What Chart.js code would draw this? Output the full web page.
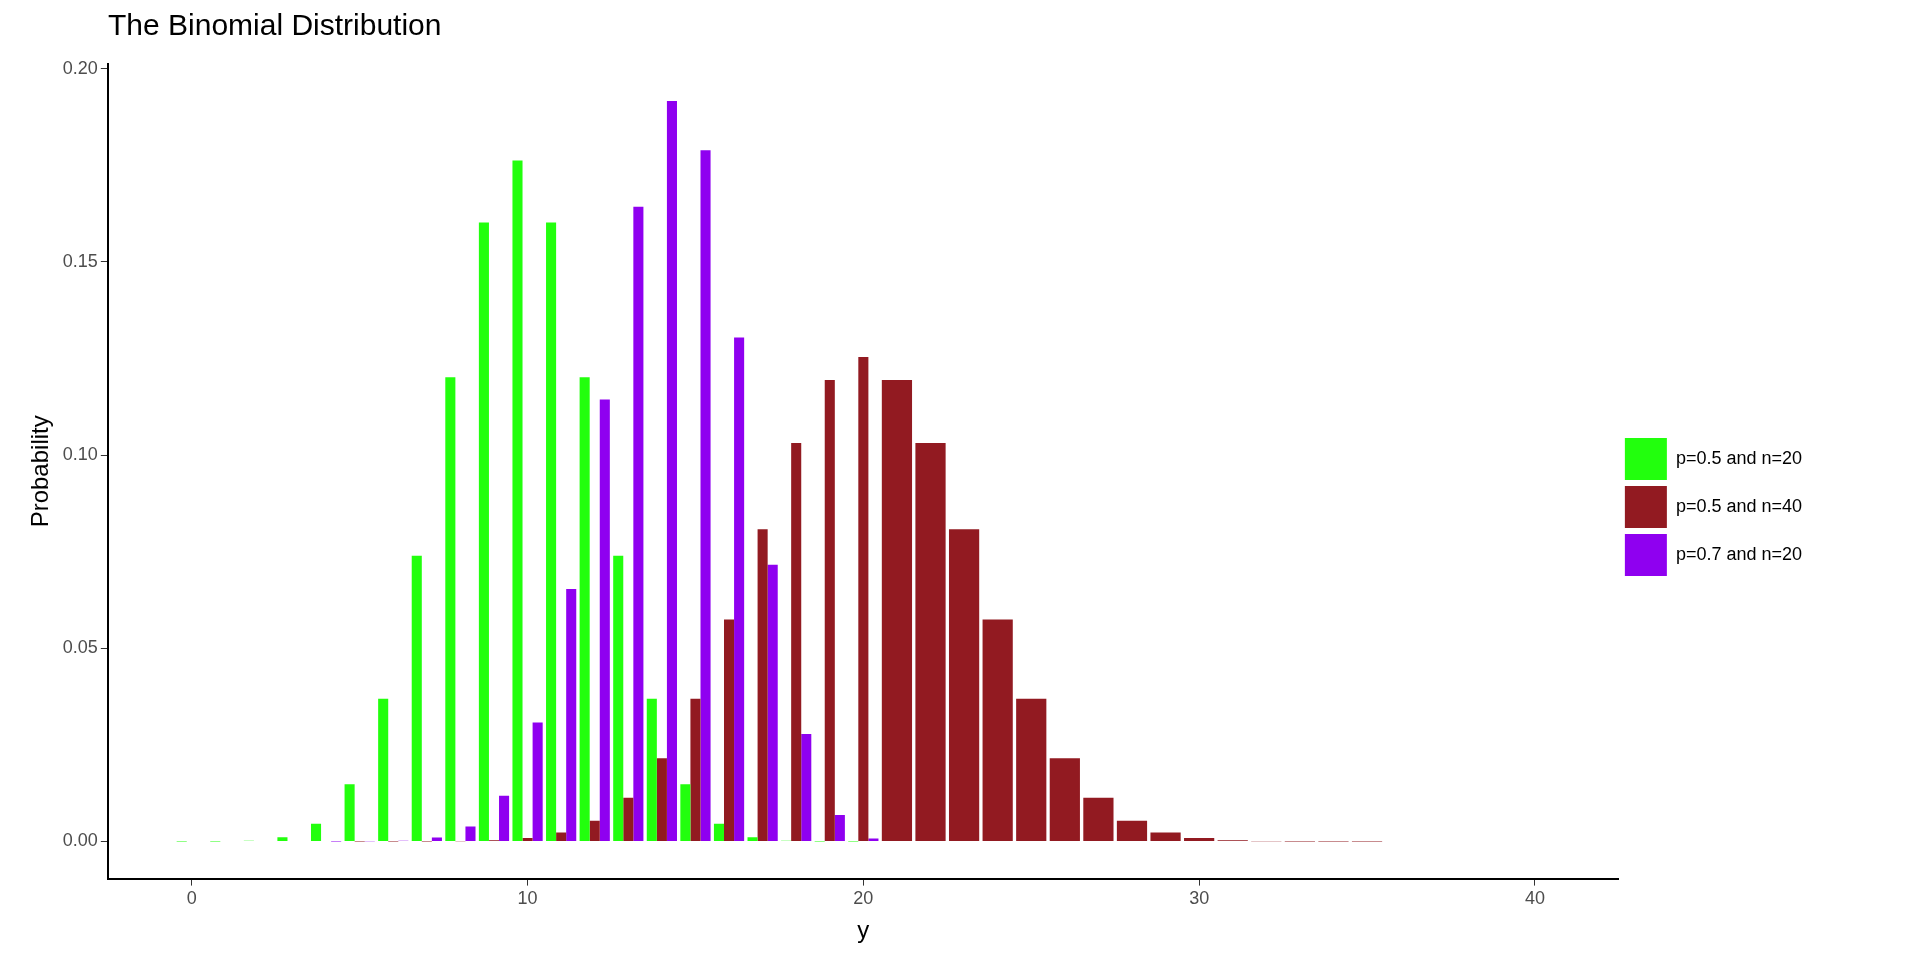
<!DOCTYPE html>
<html>
<head>
<meta charset="utf-8">
<script src="https://cdn.jsdelivr.net/npm/chart.js@4/dist/chart.umd.min.js"></script>
<style>
  body { margin: 0; background: #fff; }
  #wrap { position: relative; width: 1920px; height: 960px; }
  #title { position: absolute; left: 108px; top: 8px; font: 30px "Liberation Sans", Arial, sans-serif; color: #000; }
</style>
</head>
<body>
<div id="wrap">
  <div id="title">The Binomial Distribution</div>
  <canvas id="chart" width="1920" height="960"></canvas>
</div>
<script>
// x positions shown on the axis (padding categories at both ends)
const yValues = [];
for (let k = -2; k <= 42; k++) yValues.push(k);

// probabilities, k = 0..20
const p05n20 = [0.000001, 0.000019, 0.000181, 0.001087, 0.004621, 0.014786, 0.036964, 0.073929, 0.120134, 0.160179,
  0.176197, 0.160179, 0.120134, 0.073929, 0.036964, 0.014786, 0.004621, 0.001087, 0.000181, 0.000019, 0.000001];
const p07n20 = [0, 0, 0, 0, 0.000005, 0.000037, 0.000218, 0.001018, 0.003859, 0.011857,
  0.030817, 0.065370, 0.114397, 0.164262, 0.191639, 0.178863, 0.130421, 0.071604, 0.027846, 0.006839, 0.000798];
// k = 0..40
const p05n40 = [0, 0, 0, 0, 0, 0.0000013, 0.0000061, 0.0000253, 0.0000927, 0.000303,
  0.000882, 0.002301, 0.005383, 0.011330, 0.021529, 0.036964, 0.057417, 0.080804, 0.103118, 0.119401,
  0.125371, 0.119401, 0.103118, 0.080804, 0.057417, 0.036964, 0.021529, 0.011330, 0.005383, 0.002301,
  0.000882, 0.000303, 0.0000927, 0.0000253, 0.0000061, 0.0000013, 0, 0, 0, 0, 0];
const yTicks = [0, 0.05, 0.10, 0.15, 0.20];

function spread(arr, from, to) {
  return yValues.map(k => (k >= from && k <= to && k < arr.length && k >= 0) ? arr[k] : null);
}

const green = '#22ff0d', brown = '#921a21', purple = '#8f00f0';

// widen the legend box so it sits away from the panel like ggplot
const legendPad = {
  id: 'legendPad',
  beforeInit(chart) {
    const fit = chart.legend.fit;
    chart.legend.fit = function () { fit.call(this); this.width += 88; };
  }
};

new Chart(document.getElementById('chart'), {
  type: 'bar',
  data: {
    labels: yValues,
    datasets: [
      { label: 'p=0.5 and n=20', data: spread(p05n20, 0, 20), backgroundColor: green },
      { label: 'p=0.5 and n=40', data: spread(p05n40, 0, 20), backgroundColor: brown },
      { label: 'p=0.7 and n=20', data: spread(p07n20, 0, 20), backgroundColor: purple },
      { label: 'wide', data: spread(p05n40, 21, 40), backgroundColor: brown }
    ]
  },
  plugins: [legendPad],
  options: {
    responsive: false,
    animation: false,
    skipNull: true,
    categoryPercentage: 0.9,
    barPercentage: 1,
    layout: { padding: { top: 64, right: 20, bottom: 10, left: 23 } },
    plugins: {
      tooltip: { enabled: false },
      legend: {
        position: 'right',
        labels: {
          boxWidth: 42, boxHeight: 42, padding: 6,
          font: { size: 18, family: 'Liberation Sans' }, color: '#000',
          filter: item => item.text !== 'wide'
        }
      }
    },
    scales: {
      x: {
        grid: { display: true, drawOnChartArea: false, drawTicks: true, tickLength: 7, color: '#333', offset: false },
        border: { display: true, color: '#000', width: 2 },
        ticks: {
          autoSkip: false, maxRotation: 0, color: '#4d4d4d', font: { size: 18, family: 'Liberation Sans' },
          callback: v => String(yValues[v])
        },
        afterBuildTicks: axis => { axis.ticks = axis.ticks.filter(t => { const k = yValues[t.value]; return k % 10 === 0 && k >= 0 && k <= 40; }); },
        title: { display: true, text: 'y', font: { size: 24, family: 'Liberation Sans' }, color: '#000' }
      },
      y: {
        min: -0.0096, max: 0.2012,
        grid: { display: true, drawOnChartArea: false, drawTicks: true, tickLength: 7, color: '#333' },
        border: { display: true, color: '#000', width: 2 },
        afterBuildTicks: axis => { axis.ticks = yTicks.map(v => ({ value: v })); },
        ticks: { color: '#4d4d4d', font: { size: 18, family: 'Liberation Sans' }, callback: v => v.toFixed(2) },
        title: { display: true, text: 'Probability', font: { size: 24, family: 'Liberation Sans' }, color: '#000' }
      }
    }
  }
});
</script>
</body>
</html>
